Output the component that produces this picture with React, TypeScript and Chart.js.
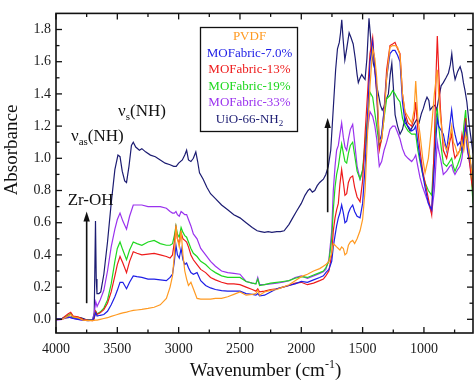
import React, { useEffect, useRef } from 'react';
import { Chart, registerables } from 'chart.js';

Chart.register(...registerables);

// ---------------- data ----------------
const WAVENUMBERS = [
  4000, 3950, 3900, 3880, 3860, 3820, 3780, 3740, 3700, 3690,
  3676, 3665, 3640, 3610, 3580, 3550, 3520, 3500, 3478, 3455,
  3425, 3400, 3370, 3340, 3300, 3250, 3200, 3150, 3100, 3070,
  3050, 3035, 3022, 3010, 2995, 2980, 2965, 2950, 2935, 2920,
  2900, 2880, 2850, 2820, 2780, 2740, 2700, 2650, 2600, 2550,
  2500, 2450, 2400, 2370, 2355, 2340, 2300, 2250, 2200, 2150,
  2100, 2050, 2000, 1950, 1900, 1850, 1820,
  1800, 1775, 1752, 1739, 1725, 1712, 1698, 1685, 1671, 1657,
  1644, 1630, 1616, 1600, 1581, 1565, 1545, 1521, 1500, 1480,
  1460, 1440, 1418, 1400, 1385, 1364, 1345, 1325, 1304, 1277,
  1255, 1236, 1215, 1195, 1175, 1154, 1130, 1100, 1080, 1067,
  1050, 1032, 1010, 991, 964, 937, 915, 900, 891, 880,
  865, 842, 815, 790, 774, 760, 747, 725, 706, 690,
  675, 660, 645, 624, 611, 600,
];

const PVDF = [
  0.0, 0.0, 0.02, 0.03, 0.015, 0.01, -0.005, -0.008, -0.008, -0.006,
  -0.005, -0.005, 0.0, 0.005, 0.01, 0.018, 0.025, 0.03, 0.035, 0.04,
  0.045, 0.05, 0.055, 0.058, 0.062, 0.068, 0.075, 0.09, 0.13, 0.2,
  0.27, 0.4, 0.58, 0.5, 0.45, 0.55, 0.4, 0.3, 0.25, 0.21,
  0.23, 0.19, 0.13, 0.125, 0.125, 0.125, 0.13, 0.13, 0.14, 0.155,
  0.17, 0.15, 0.155, 0.16, 0.18, 0.15, 0.17, 0.18, 0.185, 0.2,
  0.215, 0.24, 0.265, 0.28, 0.3, 0.315, 0.33,
  0.34, 0.36, 0.41, 0.47, 0.46, 0.45, 0.44, 0.43, 0.45, 0.44,
  0.40, 0.41, 0.46, 0.48, 0.49, 0.47, 0.50, 0.55, 0.62, 0.80,
  1.15, 1.45, 1.68, 1.62, 1.50, 1.10, 1.12, 1.25, 1.50, 1.69,
  1.70, 1.70, 1.69, 1.64, 1.40, 1.29, 1.26, 1.22, 1.30, 1.48,
  1.25, 1.15, 1.00, 0.91, 1.00, 1.20, 1.40, 1.50, 1.55, 1.40,
  1.25, 1.10, 1.05, 1.12, 1.20, 1.10, 1.08, 1.02, 1.05, 1.10,
  1.05, 1.15, 1.10, 1.00, 0.92, 0.85,
];

const MOF_7 = [
  0.005, 0.005, 0.015, 0.01, 0.005, 0.0, -0.005, -0.008, -0.005, 0.01,
  0.04, 0.02, 0.025, 0.03, 0.05, 0.09, 0.14, 0.18, 0.23, 0.23,
  0.19, 0.23, 0.27, 0.265, 0.26, 0.25, 0.25, 0.245, 0.24, 0.26,
  0.28, 0.36, 0.46, 0.4, 0.38, 0.44, 0.37, 0.34, 0.35, 0.32,
  0.29, 0.28, 0.29, 0.24, 0.21, 0.195, 0.185, 0.178, 0.175, 0.175,
  0.175, 0.16, 0.155, 0.15, 0.16, 0.145, 0.15, 0.17, 0.19, 0.2,
  0.21, 0.22, 0.235, 0.23, 0.245, 0.26, 0.27,
  0.29, 0.31, 0.36, 0.45, 0.52, 0.58, 0.63, 0.66, 0.71, 0.66,
  0.60, 0.61, 0.66, 0.69, 0.71, 0.67, 0.64, 0.63, 0.72, 0.95,
  1.25, 1.60, 1.72, 1.55, 1.42, 1.10, 1.15, 1.30, 1.50, 1.65,
  1.67, 1.67, 1.64, 1.60, 1.35, 1.22, 1.20, 1.17, 1.18, 1.20,
  1.10, 1.00, 0.90, 0.82, 0.72, 0.68, 0.95, 1.15, 1.25, 1.20,
  1.18, 1.15, 1.05, 1.20, 1.30, 1.20, 1.15, 1.08, 1.10, 1.05,
  1.12, 1.20, 1.05, 0.98, 0.93, 0.90,
];

const MOF_13 = [
  0.0, 0.005, 0.035, 0.044, 0.02, 0.015, 0.0, -0.005, -0.008, 0.0,
  0.05, 0.03, 0.04, 0.06, 0.1, 0.17, 0.27, 0.34, 0.39, 0.35,
  0.29, 0.36, 0.42, 0.41, 0.4, 0.405, 0.41, 0.4, 0.39, 0.38,
  0.4, 0.48, 0.57, 0.5, 0.47, 0.54, 0.5, 0.49, 0.48, 0.45,
  0.4, 0.37, 0.34, 0.31, 0.29, 0.26, 0.245, 0.23, 0.22, 0.22,
  0.215, 0.2, 0.185, 0.175, 0.19, 0.17, 0.175, 0.185, 0.19, 0.2,
  0.21, 0.225, 0.23, 0.215, 0.225, 0.24, 0.25,
  0.27, 0.30, 0.40, 0.55, 0.63, 0.68, 0.72, 0.84, 0.93, 0.85,
  0.77, 0.78, 0.85, 0.88, 0.89, 0.82, 0.76, 0.73, 0.86, 1.15,
  1.40, 1.65, 1.75, 1.55, 1.40, 1.05, 1.12, 1.30, 1.55, 1.70,
  1.71, 1.72, 1.68, 1.65, 1.40, 1.28, 1.22, 1.20, 1.25, 1.35,
  1.18, 1.05, 0.92, 0.85, 0.75, 0.65, 1.10, 1.55, 1.76, 1.55,
  1.30, 1.05, 1.00, 1.10, 1.15, 1.05, 1.00, 1.03, 1.05, 1.15,
  1.08, 1.25, 1.05, 0.95, 0.85, 0.80,
];

const MOF_19 = [
  0.0, 0.005, 0.025, 0.035, 0.015, 0.01, 0.0, -0.005, -0.005, 0.01,
  0.05, 0.035, 0.045, 0.07, 0.12, 0.22, 0.36, 0.44, 0.48, 0.43,
  0.37, 0.43, 0.48, 0.47, 0.46, 0.48, 0.49, 0.47, 0.46, 0.46,
  0.47, 0.52, 0.58, 0.53, 0.51, 0.57, 0.54, 0.52, 0.51, 0.48,
  0.44, 0.41, 0.39, 0.36, 0.34, 0.31, 0.29, 0.27, 0.26, 0.26,
  0.26, 0.235, 0.225, 0.22, 0.25, 0.21, 0.215, 0.225, 0.23, 0.235,
  0.24, 0.255, 0.265, 0.26, 0.275, 0.29, 0.3,
  0.32, 0.36, 0.50, 0.68, 0.82, 0.90, 0.95, 1.02, 1.09, 1.03,
  0.98, 0.97, 1.03, 1.08, 1.10, 1.02, 0.92, 0.87, 0.93, 1.10,
  1.25, 1.41, 1.38, 1.28, 1.20, 1.07, 1.12, 1.25, 1.37, 1.39,
  1.42, 1.40, 1.37, 1.35, 1.25, 1.20, 1.17, 1.15, 1.15, 1.15,
  1.05, 0.98, 0.90, 0.85, 0.80, 0.77, 1.05, 1.25, 1.31, 1.20,
  1.10, 0.97, 0.95, 0.98, 1.00, 0.95, 0.92, 0.96, 1.00, 1.05,
  1.20, 1.30, 1.10, 1.00, 0.85, 0.72,
];

const MOF_33 = [
  -0.005, 0.0, 0.015, 0.01, 0.005, 0.0, -0.005, -0.005, 0.0, 0.03,
  0.11, 0.08, 0.12, 0.18, 0.3, 0.45, 0.56, 0.62, 0.66, 0.61,
  0.56, 0.64, 0.71, 0.71, 0.71, 0.7, 0.7, 0.7, 0.69, 0.67,
  0.66, 0.66, 0.67, 0.65, 0.64, 0.67, 0.66, 0.65, 0.65, 0.62,
  0.58, 0.53, 0.5, 0.44, 0.4, 0.36, 0.33, 0.3, 0.29, 0.285,
  0.28, 0.235, 0.225, 0.22, 0.26, 0.215, 0.215, 0.22, 0.225, 0.23,
  0.24, 0.26, 0.27, 0.255, 0.27, 0.285, 0.295,
  0.31, 0.37, 0.55, 0.80, 0.95, 1.05, 1.08, 1.15, 1.22, 1.13,
  1.07, 1.05, 1.12, 1.18, 1.21, 1.10, 0.95, 0.87, 0.92, 1.05,
  1.18, 1.29, 1.26, 1.20, 1.12, 0.95, 0.98, 1.05, 1.10, 1.18,
  1.20, 1.20, 1.16, 1.12, 1.06, 1.02, 1.00, 0.98, 1.00, 1.02,
  0.95, 0.88, 0.82, 0.78, 0.72, 0.66, 0.80, 1.00, 1.10, 1.05,
  1.00, 0.90, 0.92, 0.95, 0.96, 0.92, 0.90, 0.93, 0.95, 1.00,
  1.10, 1.25, 1.15, 0.95, 0.90, 0.88,
];

const UIO_WAVENUMBERS = [
  4000, 3950, 3900, 3870, 3840, 3800, 3760, 3720, 3700, 3688,
  3678, 3672, 3666, 3650, 3635, 3610, 3580, 3550, 3520, 3495,
  3478, 3460, 3440, 3425, 3405, 3385, 3370, 3350, 3320, 3300,
  3270, 3230, 3190, 3150, 3110, 3070, 3040, 3020, 3000, 2970,
  2950, 2935, 2920, 2900, 2880, 2860, 2845, 2830, 2800, 2770,
  2740, 2700, 2650, 2600, 2550, 2500, 2450, 2400, 2360, 2330,
  2300, 2270, 2240, 2200, 2170, 2140, 2100, 2070, 2040, 2000,
  1970, 1945, 1930, 1910, 1890, 1870, 1850, 1820, 1800, 1780,
  1760, 1740, 1720, 1705, 1690, 1680, 1670, 1660, 1645, 1630,
  1610, 1595, 1577, 1560, 1545, 1535, 1520, 1507, 1490, 1480,
  1465, 1448, 1435, 1426, 1410, 1399, 1385, 1372, 1355, 1340,
  1325, 1310, 1290, 1275, 1262, 1250, 1235, 1215, 1195, 1175,
  1154, 1135, 1113, 1090, 1060, 1040, 1020, 1005, 990, 975,
  960, 950, 930, 910, 896, 880, 860, 842, 820, 800,
  785, 773, 760, 746, 725, 705, 690, 678, 665, 650,
  630, 612, 600,
];

const UIO_66_NH2 = [
  0.0, 0.005, 0.01, 0.015, 0.008, 0.01, 0.0, -0.003, 0.0, 0.04,
  0.61, 0.25, 0.16, 0.16, 0.17, 0.28, 0.48, 0.72, 0.93, 1.02,
  1.01, 0.92, 0.86, 0.85, 0.95, 1.08, 1.10, 1.07, 1.05, 1.06,
  1.04, 1.02, 1.01, 0.99, 0.97, 0.96, 0.95, 0.95, 0.97, 0.99,
  1.02, 1.05, 0.99, 0.98, 1.00, 1.04, 0.98, 0.91, 0.87, 0.82,
  0.78, 0.75, 0.71, 0.68, 0.65, 0.63, 0.60, 0.57, 0.55, 0.545,
  0.54, 0.545, 0.54, 0.545, 0.545, 0.55, 0.59, 0.63, 0.67, 0.72,
  0.77, 0.80, 0.81, 0.79, 0.80, 0.83, 0.85, 0.87, 0.90, 0.95,
  1.05, 1.30, 1.55, 1.68, 1.72, 1.78, 1.86, 1.75, 1.61, 1.68,
  1.78, 1.75, 1.71, 1.62, 1.52, 1.47, 1.50, 1.52, 1.50, 1.49,
  1.62, 1.87, 1.75, 1.65, 1.58, 1.55, 1.45, 1.40, 1.33, 1.30,
  1.32, 1.36, 1.40, 1.52, 1.59, 1.45, 1.27, 1.20, 1.15, 1.18,
  1.25, 1.20, 1.17, 1.20, 1.24, 1.22, 1.28, 1.31, 1.35, 1.38,
  1.36, 1.30, 1.32, 1.33, 1.30, 1.37, 1.45, 1.47, 1.50, 1.53,
  1.58, 1.65, 1.55, 1.49, 1.54, 1.57, 1.53, 1.47, 1.42, 1.35,
  1.20, 1.10, 1.03,
];

const SERIES_NAMES = ['PVDF', 'MOFabric-7.0%', 'MOFabric-13%', 'MOFabric-19%', 'MOFabric-33%', 'UiO-66-NH2'];
const SERIES_COLORS = ['#ff9a22', '#1e1ee6', '#ee1b1b', '#1fd81f', '#9a32ee', '#1c1c72'];

const X_MAJOR = [4000, 3500, 3000, 2500, 2000, 1500, 1000];
const X_MINOR = [3750, 3250, 2750, 2250, 1750, 1250, 750];
const Y_MAJOR = [0, 0.2, 0.4, 0.6, 0.8, 1.0, 1.2, 1.4, 1.6, 1.8];
const Y_MINOR = [0.1, 0.3, 0.5, 0.7, 0.9, 1.1, 1.3, 1.5, 1.7];

const FONT = "'Liberation Serif', 'Times New Roman', serif";

type Part = [string, number, number];

function drawParts(ctx: CanvasRenderingContext2D, parts: Part[], x: number, y: number, align: 'left' | 'center') {
  let total = 0;
  for (const p of parts) {
    ctx.font = `${p[1]}px ${FONT}`;
    total += ctx.measureText(p[0]).width;
  }
  let cx = align === 'center' ? x - total / 2 : x;
  ctx.textAlign = 'left';
  for (const p of parts) {
    ctx.font = `${p[1]}px ${FONT}`;
    ctx.fillText(p[0], cx, y + p[2]);
    cx += ctx.measureText(p[0]).width;
  }
}

const decorPlugin = {
  id: 'decor',
  afterDraw(chart: any) {
    const { ctx, chartArea: a, scales } = chart;
    const xs = scales.x;
    const ys = scales.y;
    ctx.save();

    // frame
    ctx.strokeStyle = '#111';
    ctx.lineWidth = 1.6;
    ctx.strokeRect(a.left, a.top, a.right - a.left, a.bottom - a.top);

    // inward ticks
    ctx.lineWidth = 1.3;
    const seg = (x1: number, y1: number, x2: number, y2: number) => {
      ctx.beginPath();
      ctx.moveTo(x1, y1);
      ctx.lineTo(x2, y2);
      ctx.stroke();
    };
    X_MAJOR.forEach((v) => {
      const p = xs.getPixelForValue(v);
      seg(p, a.bottom, p, a.bottom - 6);
      seg(p, a.top, p, a.top + 6);
    });
    X_MINOR.forEach((v) => {
      const p = xs.getPixelForValue(v);
      seg(p, a.bottom, p, a.bottom - 3.5);
      seg(p, a.top, p, a.top + 3.5);
    });
    Y_MAJOR.forEach((v) => {
      const p = ys.getPixelForValue(v);
      seg(a.left, p, a.left + 6, p);
      seg(a.right, p, a.right - 6, p);
    });
    Y_MINOR.forEach((v) => {
      const p = ys.getPixelForValue(v);
      seg(a.left, p, a.left + 3.5, p);
      seg(a.right, p, a.right - 3.5, p);
    });

    // axis titles
    ctx.fillStyle = '#111';
    ctx.textBaseline = 'alphabetic';
    drawParts(ctx, [['Wavenumber (cm', 19, 0], ['-1', 12, -8], [')', 19, 0]], (a.left + a.right) / 2 + 1, 376, 'center');
    ctx.save();
    ctx.translate(17, 150);
    ctx.rotate(-Math.PI / 2);
    drawParts(ctx, [['Absorbance', 19, 0]], 0, 0, 'center');
    ctx.restore();

    // annotations (anchored in data coordinates)
    ctx.fillStyle = '#111';
    drawParts(ctx, [['\u03bd', 17, 0], ['s', 11, 4], ['(NH)', 17, 0]], xs.getPixelForValue(3494), ys.getPixelForValue(1.265), 'left');
    drawParts(ctx, [['\u03bd', 17, 0], ['as', 11, 4], ['(NH)', 17, 0]], xs.getPixelForValue(3878), ys.getPixelForValue(1.105), 'left');
    drawParts(ctx, [['Zr-OH', 17, 0]], xs.getPixelForValue(3905), ys.getPixelForValue(0.71), 'left');

    const arrow = (wn: number, from: number, to: number) => {
      const px = xs.getPixelForValue(wn);
      const y0 = ys.getPixelForValue(from);
      const y1 = ys.getPixelForValue(to);
      ctx.strokeStyle = '#111';
      ctx.lineWidth = 1.6;
      seg(px, y0, px, y1 + 7);
      ctx.beginPath();
      ctx.moveTo(px, y1);
      ctx.lineTo(px - 3.2, y1 + 10);
      ctx.lineTo(px + 3.2, y1 + 10);
      ctx.closePath();
      ctx.fill();
    };
    arrow(3750, 0.1, 0.67);
    arrow(1785, 0.665, 1.25);

    // legend box
    const bx = 200, by = 27, bw = 97, bh = 104;
    ctx.fillStyle = '#fff';
    ctx.fillRect(bx, by, bw, bh);
    ctx.strokeStyle = '#111';
    ctx.lineWidth = 1.3;
    ctx.strokeRect(bx + 0.5, by + 0.5, bw, bh);
    ctx.textBaseline = 'middle';
    SERIES_NAMES.forEach((name, i) => {
      ctx.fillStyle = SERIES_COLORS[i];
      const cy = 37 + i * 16.5;
      const cx = bx + bw / 2 + 1;
      if (name.endsWith('NH2')) {
        drawParts(ctx, [[name.slice(0, -1), 13, 0], ['2', 9, 4]], cx, cy, 'center');
      } else {
        drawParts(ctx, [[name, 13, 0]], cx, cy, 'center');
      }
    });
    ctx.restore();
  },
};

export default function App() {
  const ref = useRef<HTMLCanvasElement | null>(null);

  useEffect(() => {
    document.body.style.margin = '0';
    const canvas = ref.current;
    if (!canvas) return;
    const films = [PVDF, MOF_7, MOF_13, MOF_19, MOF_33];
    const datasets: any[] = films.map((vals, i) => ({
      label: SERIES_NAMES[i],
      data: WAVENUMBERS.map((w, j) => ({ x: w, y: vals[j] })),
      borderColor: SERIES_COLORS[i],
      backgroundColor: SERIES_COLORS[i],
      borderWidth: 1.2,
      pointRadius: 0,
      tension: 0,
      fill: false,
    }));
    datasets.push({
      label: SERIES_NAMES[5],
      data: UIO_WAVENUMBERS.map((w, j) => ({ x: w, y: UIO_66_NH2[j] })),
      borderColor: SERIES_COLORS[5],
      backgroundColor: SERIES_COLORS[5],
      borderWidth: 1.2,
      pointRadius: 0,
      tension: 0,
      fill: false,
    });

    const chart = new Chart(canvas, {
      type: 'line',
      data: { datasets },
      options: {
        responsive: false,
        animation: false,
        layout: { padding: { top: 1, right: 1, left: 0, bottom: 0 } },
        plugins: { legend: { display: false }, tooltip: { enabled: false } },
        scales: {
          x: {
            type: 'linear',
            reverse: true,
            min: 600,
            max: 4000,
            afterBuildTicks: (s: any) => {
              s.ticks = X_MAJOR.map((v) => ({ value: v }));
            },
            afterFit: (s: any) => {
              s.height = 50;
            },
            grid: { display: false, drawTicks: false },
            border: { display: false },
            ticks: {
              autoSkip: false,
              maxRotation: 0,
              padding: 8,
              color: '#1a1a1a',
              font: { family: FONT, size: 14 },
              callback: (v: any) => String(v),
            },
          },
          y: {
            type: 'linear',
            min: -0.085,
            max: 1.9,
            afterBuildTicks: (s: any) => {
              s.ticks = Y_MAJOR.map((v) => ({ value: v }));
            },
            afterFit: (s: any) => {
              s.width = 56;
            },
            grid: { display: false, drawTicks: false },
            border: { display: false },
            ticks: {
              padding: 5,
              color: '#1a1a1a',
              font: { family: FONT, size: 14 },
              callback: (v: any) => Number(v).toFixed(1),
            },
          },
        },
      },
      plugins: [decorPlugin],
    });
    return () => chart.destroy();
  }, []);

  return (
    <div style={{ position: 'absolute', left: 0, top: 0, width: 474, height: 383, background: '#fff' }}>
      <canvas ref={ref} width={474} height={383} style={{ display: 'block' }} />
    </div>
  );
}
